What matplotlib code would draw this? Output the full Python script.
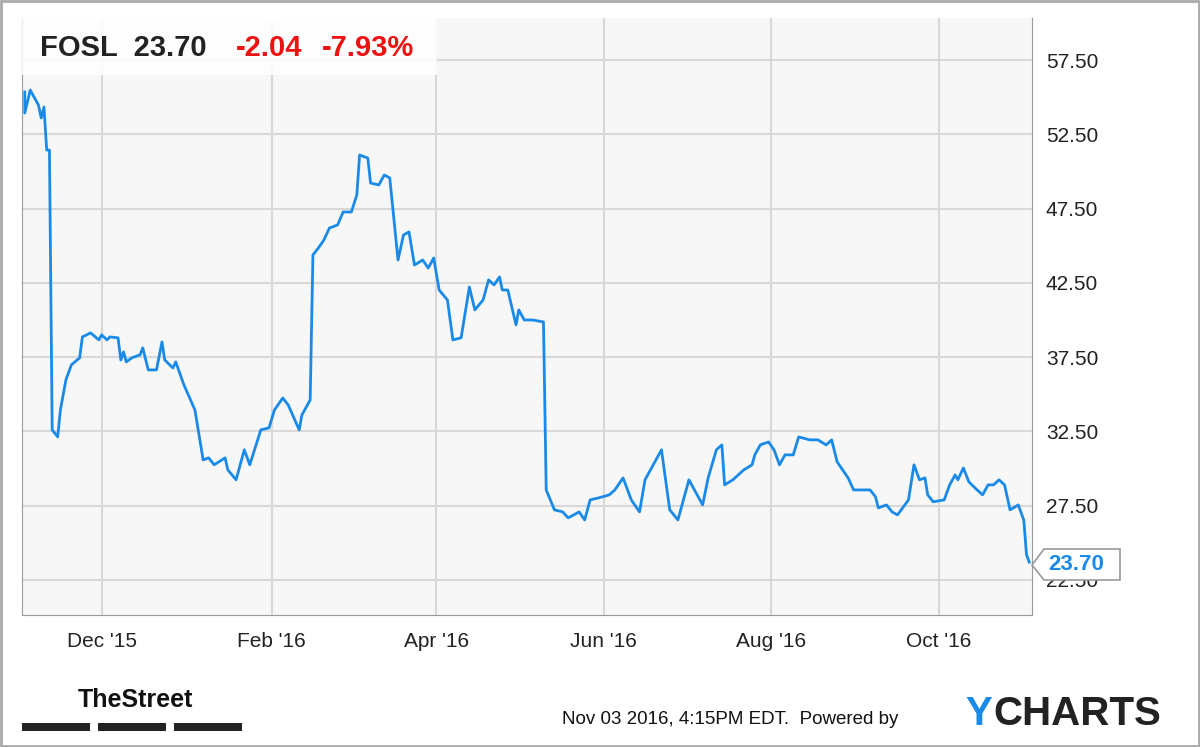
import matplotlib
matplotlib.use("Agg")
import matplotlib.pyplot as plt
import datetime as dt
from matplotlib.patches import Rectangle, Polygon

plt.rcParams['font.family'] = ['Liberation Sans', 'DejaVu Sans']

start = dt.date(2015, 11, 3)
day_offsets = [0,0.5,2,5,6,7,8,9,10,12,13,15,17,20,21,24,27,28,30,31,34,35,36,37,39,42,43,45,48,50,51,54,55,58,62,65,67,69,73,74,77,80,82,86,89,91,94,96,100,101,104,105,107,109,111,114,116,119,121,122,125,126,129,131,133,136,138,140,142,145,147,149,151,154,156,159,162,164,167,169,171,173,174,176,179,180,182,185,189,190,193,196,198,202,204,206,209,213,215,218,221,224,226,229,232,233,235,238,240,242,246,247,249,252,254,255,258,262,265,266,268,271,273,275,277,280,282,286,289,292,294,296,300,302,308,310,311,314,316,318,322,324,326,328,329,331,335,337,339,340,342,344,347,349,351,353,355,357,359,362,364,365,366]
prices = [55.35,53.93,55.48,54.47,53.6,54.34,51.44,51.44,32.6,32.13,33.95,35.97,36.98,37.45,38.86,39.13,38.66,39.0,38.66,38.86,38.8,37.31,37.85,37.18,37.45,37.65,38.12,36.64,36.64,38.52,37.31,36.77,37.18,35.63,33.95,30.58,30.72,30.25,30.72,29.91,29.24,31.26,30.25,32.6,32.74,33.95,34.75,34.28,32.6,33.61,34.62,44.38,44.85,45.39,46.19,46.4,47.27,47.27,48.42,51.11,50.9,49.22,49.09,49.76,49.56,44.04,45.72,45.93,43.7,44.04,43.5,44.17,42.02,41.35,38.66,38.8,42.22,40.68,41.35,42.7,42.36,42.9,42.02,42.02,39.67,40.68,40.0,40.0,39.87,28.56,27.22,27.08,26.68,27.08,26.54,27.89,28.02,28.23,28.56,29.37,27.89,27.08,29.24,30.25,31.26,29.91,27.22,26.54,27.89,29.24,27.89,27.55,29.37,31.26,31.59,28.9,29.24,29.91,30.25,30.92,31.59,31.79,31.26,30.25,30.92,30.92,32.13,31.93,31.93,31.59,31.93,30.45,29.37,28.56,28.56,28.09,27.35,27.55,27.08,26.88,27.89,30.25,29.24,29.37,28.23,27.76,27.89,28.9,29.57,29.24,30.04,29.1,28.56,28.23,28.9,28.9,29.24,28.9,27.22,27.55,26.54,24.2,23.70]
yticks = [22.5, 27.5, 32.5, 37.5, 42.5, 47.5, 52.5, 57.5]
month_ticks = ["2015-12-01", "2016-02-01", "2016-04-01", "2016-06-01", "2016-08-01", "2016-10-01"]
month_labels = ["Dec '15", "Feb '16", "Apr '16", "Jun '16", "Aug '16", "Oct '16"]

dates = [start + dt.timedelta(days=d) for d in day_offsets]
blue = "#1a8ae8"

fig = plt.figure(figsize=(12, 7.47), dpi=100)
fig.patches.append(Rectangle((0.001, 0.001), 0.998, 0.998, transform=fig.transFigure,
                             fill=False, edgecolor="#aaaaaa", lw=2))
ax = fig.add_axes([22/1200, 1-615/747, 1010/1200, 597/747])
ax.set_facecolor("#f7f7f7")
ax.plot(dates, prices, color=blue, lw=2)
ax.set_xlim(dt.date(2015, 11, 2), dt.date(2016, 11, 4))
ax.set_ylim(20.14, 60.33)
ax.set_yticks(yticks)
ax.set_yticklabels([f"{v:.2f}" for v in yticks])
ax.yaxis.tick_right()
ax.set_xticks([dt.datetime.strptime(s, "%Y-%m-%d") for s in month_ticks])
ax.set_xticklabels(month_labels)
ax.tick_params(length=0, labelsize=15, colors="#222222", pad=12)
ax.tick_params(axis="y", pad=10)
ax.grid(True, color="#d8d8d8", lw=1.5)
for s in ["top", "right", "left", "bottom"]:
    ax.spines[s].set_color("#999999")
ax.spines["top"].set_visible(False)

# header
hdr = Rectangle((22/1200, 1-75/747), 415/1200, 57/747, transform=fig.transFigure,
                facecolor="white", alpha=0.85, edgecolor="none", zorder=5)
hdr.set_clip_on(False)
ax.add_artist(hdr)
fig.text(40/1200, 1-48/747, "FOSL  23.70", fontsize=21, fontweight="bold", color="#222222", va="center")
fig.text(236/1200, 1-48/747, "-2.04", fontsize=21, fontweight="bold", color="#ee1111", va="center")
fig.text(322/1200, 1-48/747, "-7.93%", fontsize=21, fontweight="bold", color="#ee1111", va="center")

# last value label (drawn over the tick label)
box = Polygon([[1032/1200, 1-565/747], [1044/1200, 1-549/747], [1120/1200, 1-549/747],
               [1120/1200, 1-580/747], [1044/1200, 1-580/747]], closed=True,
              transform=fig.transFigure, facecolor="white", edgecolor="#999999", lw=1.2, zorder=10)
box.set_clip_on(False)
ax.add_artist(box)
ax.text(1048/1200, 1-565/747, "23.70", transform=fig.transFigure, fontsize=16, fontweight="bold",
        color=blue, va="center", zorder=11, clip_on=False)

# footer
fig.text(78/1200, 1-700/747, "TheStreet", fontsize=18, fontweight="bold", color="#111111", va="center")
for x0 in [22, 98, 174]:
    fig.patches.append(Rectangle((x0/1200, 1-731/747), 68/1200, 8/747, transform=fig.transFigure,
                                 facecolor="#222222", edgecolor="none"))
fig.text(562/1200, 1-719/747, "Nov 03 2016, 4:15PM EDT.  Powered by", fontsize=13.5, color="#111111",
         va="center")
fig.text(965/1200, 1-714/747, "Y", fontsize=29, fontweight="bold", color=blue, va="center")
fig.text(993/1200, 1-714/747, "CHARTS", fontsize=29, fontweight="bold", color="#222222", va="center")

fig.savefig("out.png", dpi=100)
